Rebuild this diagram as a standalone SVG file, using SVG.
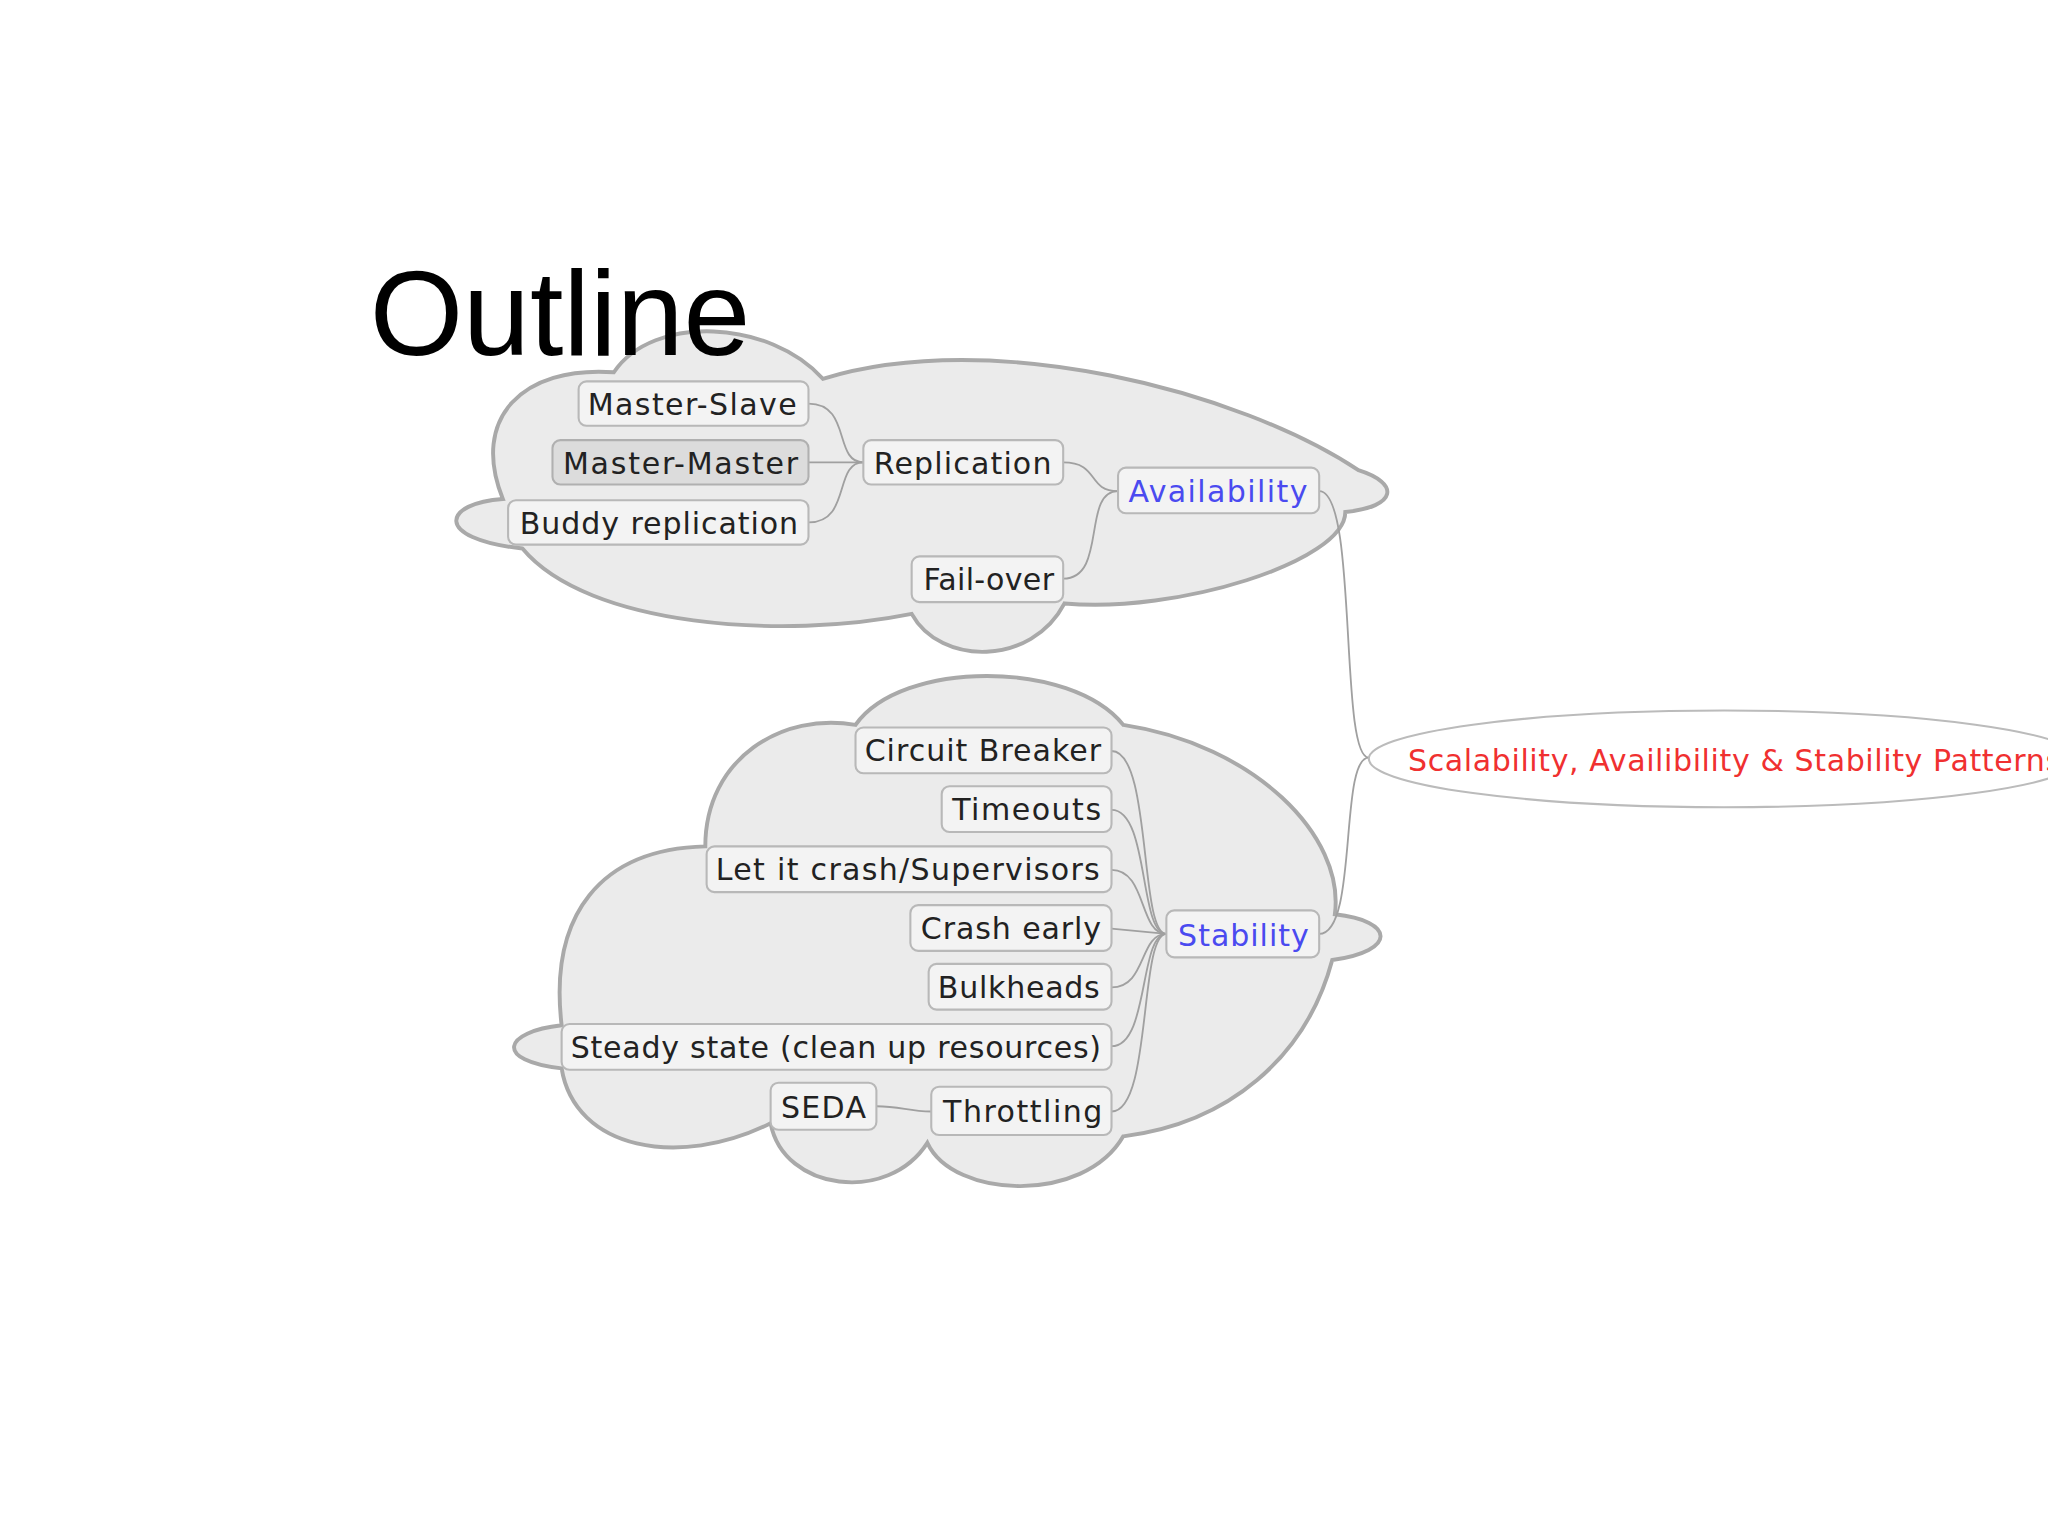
<svg xmlns="http://www.w3.org/2000/svg" width="2048" height="1536" viewBox="0 0 2048 1536">
<style>
.cloud{fill:#ebebeb;stroke:#a9a9a9;stroke-width:3}
.box{fill:#f3f3f3;stroke:#b8b8b8;stroke-width:1.6}
.sel{fill:#dcdcdc;stroke:#b0b0b0;stroke-width:1.6}
.t{font-family:"DejaVu Sans","Liberation Sans",sans-serif;font-size:23px;fill:#222}
.b{fill:#4a4af0}
.con{fill:none;stroke:#a0a0a0;stroke-width:1.4}
</style>
<rect width="2048" height="1536" fill="#fff"/>
<g transform="scale(1.306122)">
<g id="clouds">
<path class="cloud" d="M385,382 C360,320 400,280 470,285 C500,240 590,245 630,290 C760,250 950,300 1040,360 C1072,370 1070,388 1030,392 C1030,430 900,470 815,462 C790,510 720,510 698,470 C600,490 450,480 400,420 C330,412 340,385 385,382 Z"/>
<path class="cloud" d="M430,785 C420,700 460,650 540,648 C540,580 600,545 655,555 C690,505 820,505 860,555 C960,570 1030,640 1022,700 C1068,705 1070,728 1020,735 C1000,810 940,860 860,870 C830,922 730,918 710,875 C680,922 600,912 590,860 C520,895 440,880 430,818 C378,812 385,790 430,785 Z"/>
</g>
<g id="connectors">
<path class="con" d="M619,309 C652,309 638,354 661,354"/>
<path class="con" d="M619,354 L661,354"/>
<path class="con" d="M619,400 C652,400 638,354 661,354"/>
<path class="con" d="M814,354 C842,354 832,376 856,376"/>
<path class="con" d="M814,443 C848,443 828,376 856,376"/>
<path class="con" d="M1010,376 C1040,376 1025,580 1048,580"/>
<path class="con" d="M1010,715 C1040,715 1025,580 1048,580"/>
<path class="con" d="M851,575 C882,575 872,715 893,715"/>
<path class="con" d="M851,620 C880,620 872,715 893,715"/>
<path class="con" d="M851,666 C878,666 872,715 893,715"/>
<path class="con" d="M851,711 L893,715"/>
<path class="con" d="M851,756 C878,756 872,715 893,715"/>
<path class="con" d="M851,801 C880,801 872,715 893,715"/>
<path class="con" d="M851,851 C882,851 872,715 893,715"/>
<path class="con" d="M671,847 C690,847 695,851 713,851"/>
</g>
<g id="root"><ellipse cx="1320" cy="581" rx="272" ry="37" fill="#fff" stroke="#bbb" stroke-width="1.6"/>
<text x="1078" y="590" class="t" fill="#f03030" style="fill:#f03030" textLength="500">Scalability, Availibility &amp; Stability Patterns</text></g>
<g id="availability"><rect class="box" x="856" y="358" width="154" height="35" rx="6"/><text class="t b" x="864" y="384" textLength="137">Availability</text></g>
<g id="replication"><rect class="box" x="661" y="337" width="153" height="34" rx="6"/><text class="t" x="669" y="363" textLength="136">Replication</text></g>
<g id="master-slave"><rect class="box" x="443" y="292" width="176" height="34" rx="6"/><text class="t" x="450" y="318" textLength="160">Master-Slave</text></g>
<g id="master-master"><rect class="sel" x="423" y="337" width="196" height="34" rx="6"/><text class="t" x="431" y="363" textLength="180">Master-Master</text></g>
<g id="buddy"><rect class="box" x="389" y="383" width="230" height="34" rx="6"/><text class="t" x="398" y="409" textLength="213">Buddy replication</text></g>
<g id="failover"><rect class="box" x="698" y="426" width="116" height="35" rx="6"/><text class="t" x="707" y="452" textLength="100">Fail-over</text></g>
<g id="stability"><rect class="box" x="893" y="697" width="117" height="36" rx="6"/><text class="t b" x="902" y="724" textLength="100">Stability</text></g>
<g id="circuit"><rect class="box" x="655" y="557" width="196" height="35" rx="6"/><text class="t" x="662" y="583" textLength="181">Circuit Breaker</text></g>
<g id="timeouts"><rect class="box" x="721" y="602" width="130" height="35" rx="6"/><text class="t" x="729" y="628" textLength="114">Timeouts</text></g>
<g id="letitcrash"><rect class="box" x="541" y="648" width="310" height="35" rx="6"/><text class="t" x="548" y="674" textLength="294">Let it crash/Supervisors</text></g>
<g id="crashearly"><rect class="box" x="697" y="693" width="154" height="35" rx="6"/><text class="t" x="705" y="719" textLength="138">Crash early</text></g>
<g id="bulkheads"><rect class="box" x="711" y="738" width="140" height="35" rx="6"/><text class="t" x="718" y="764" textLength="124">Bulkheads</text></g>
<g id="steady"><rect class="box" x="430" y="784" width="421" height="35" rx="6"/><text class="t" x="437" y="810" textLength="406">Steady state (clean up resources)</text></g>
<g id="seda"><rect class="box" x="590" y="829" width="81" height="36" rx="6"/><text class="t" x="598" y="856" textLength="65">SEDA</text></g>
<g id="throttling"><rect class="box" x="713" y="832" width="138" height="37" rx="6"/><text class="t" x="722" y="859" textLength="122">Throttling</text></g>
<text x="283" y="272" font-family="'Liberation Sans',sans-serif" font-size="92" fill="#000">Outline</text>
</g>
</svg>
